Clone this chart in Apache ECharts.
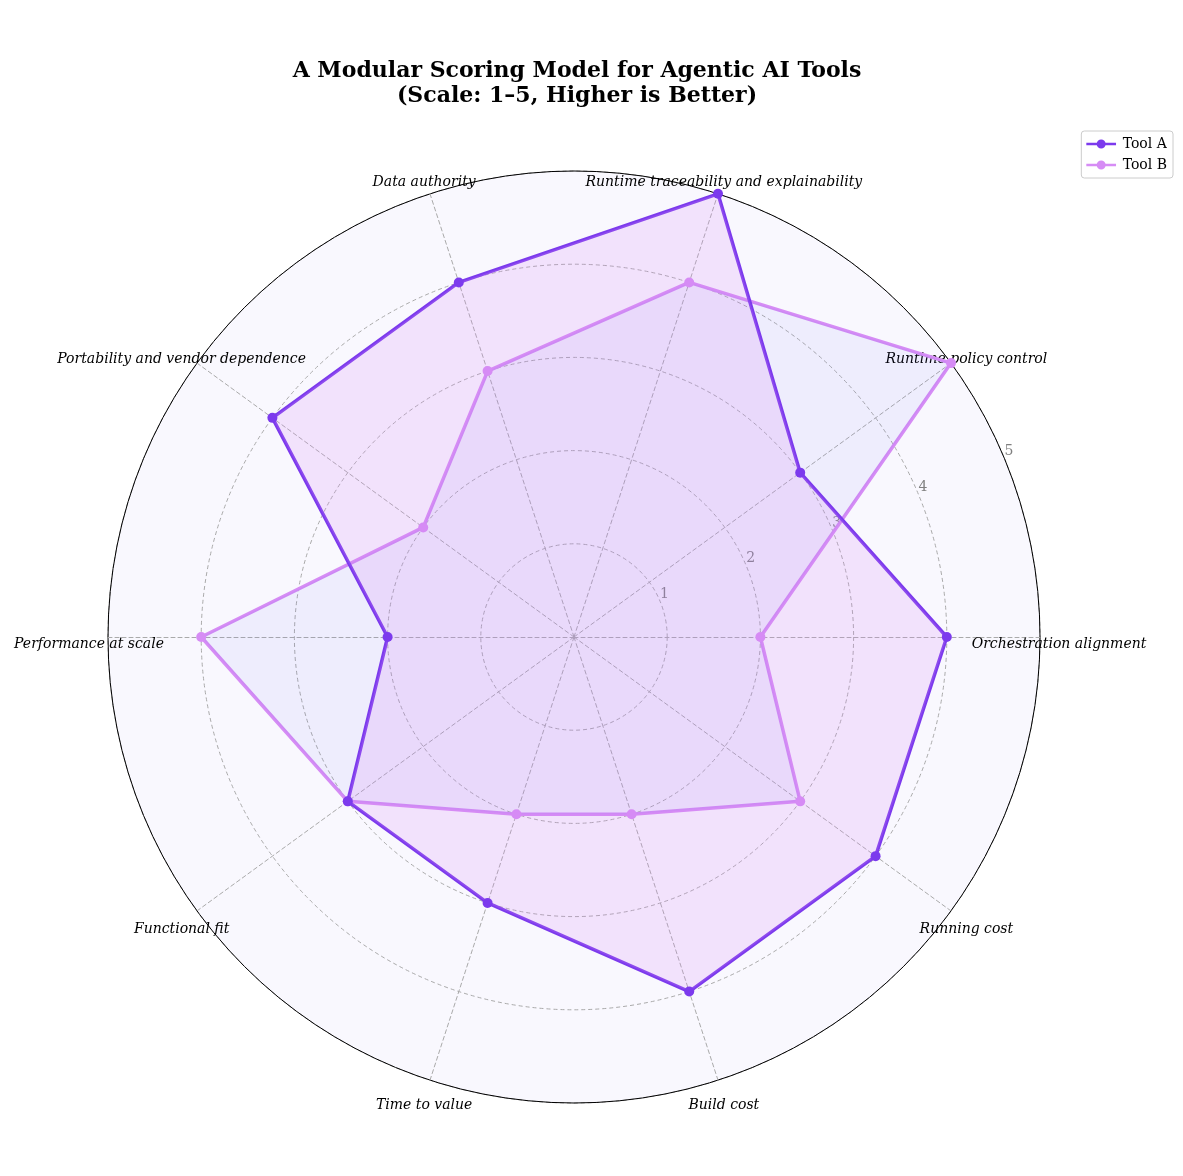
<!DOCTYPE html>
<html>
<head>
<meta charset="utf-8">
<title>Agentic AI Tools scoring</title>
<script src="https://cdn.jsdelivr.net/npm/echarts@6/dist/echarts.min.js"></script>
<style>
    html, body { margin: 0; padding: 0; background: #fff; }
    #div_echarts { width: 1183px; height: 1176px; }
</style>
</head>
<body>
<div id="div_echarts"></div>
<script>
// criteria, counter-clockwise from the right
var criteria = [
    'Orchestration alignment',
    'Runtime policy control',
    'Runtime traceability and explainability',
    'Data authority',
    'Portability and vendor dependence',
    'Performance at scale',
    'Functional fit',
    'Time to value',
    'Build cost',
    'Running cost'
];
var toolA = [4, 3, 5, 4, 4, 2, 3, 3, 4, 4];
var toolB = [2, 5, 4, 3, 2, 4, 3, 2, 2, 3];
var seriesNames = ['Tool A', 'Tool B'];
var scaleMax = 5;
var scaleTicks = [0, 1, 2, 3, 4, 5];

var FONT = '"DejaVu Serif", serif';
var CENTER = [574, 637];
var RADIUS = 466;
var COLOR_A = '#7c3aed';
var COLOR_B = '#d68cf5';

// line with a dot in the middle, like the matplotlib legend handle
var legendIcon = 'path://M0,3.5 L33,3.5 L33,6.5 L0,6.5 Z M21.5,5 A5,5 0 1 1 11.5,5 A5,5 0 1 1 21.5,5 Z';

var initEcharts = function () {
    var myChart = echarts.init(document.getElementById('div_echarts'));
    var option = {
        backgroundColor: '#ffffff',
        animation: false,
        title: {
            text: 'A Modular Scoring Model for Agentic AI Tools\n(Scale: 1\u20135, Higher is Better)',
            left: 572,
            top: 54,
            textAlign: 'center',
            textStyle: {
                fontFamily: FONT,
                fontWeight: 'bold',
                fontSize: 22,
                lineHeight: 25,
                color: '#000'
            }
        },
        legend: {
            data: seriesNames,
            right: 10,
            top: 131,
            orient: 'vertical',
            icon: legendIcon,
            itemWidth: 33,
            itemHeight: 9,
            itemGap: 7,
            padding: [6, 6, 6, 5],
            backgroundColor: '#fff',
            borderColor: '#cccccc',
            borderWidth: 1,
            borderRadius: 3,
            textStyle: { fontFamily: FONT, fontSize: 14, color: '#000' }
        },
        radar: {
            center: CENTER,
            radius: RADIUS,
            startAngle: 0,
            shape: 'circle',
            splitNumber: 5,
            indicator: criteria.map(function (name) {
                return { name: name, min: 0, max: scaleMax };
            }),
            nameGap: 19,
            axisName: {
                fontFamily: FONT,
                fontStyle: 'italic',
                fontSize: 14,
                color: '#000',
                align: 'center',
                verticalAlign: 'top'
            },
            axisLine: { lineStyle: { color: '#aaaaaa', type: [4, 3], width: 1 } },
            splitLine: { lineStyle: { color: '#aaaaaa', type: [4, 3], width: 1 } },
            splitArea: { areaStyle: { color: ['#f9f8fe'] } },
            axisLabel: { show: false }
        },
        polar: {
            center: CENTER,
            radius: RADIUS
        },
        angleAxis: {
            type: 'value',
            min: 0,
            max: 360,
            startAngle: 22.5,
            axisLine: { show: true, lineStyle: { color: '#000', width: 1 } },
            axisTick: { show: false },
            axisLabel: { show: false },
            splitLine: { show: false }
        },
        radiusAxis: {
            type: 'value',
            min: 0,
            max: scaleMax,
            interval: 1,
            axisLine: { show: false },
            axisTick: { show: false },
            splitLine: { show: false },
            axisLabel: {
                margin: 0,
                align: 'left',
                verticalAlign: 'bottom',
                fontFamily: FONT,
                fontSize: 14,
                color: '#808080',
                formatter: function (v) { return scaleTicks.indexOf(v) > 0 ? String(v) : ''; }
            }
        },
        series: [
            {
                name: seriesNames[0],
                type: 'radar',
                symbol: 'circle',
                symbolSize: 10,
                z: 3,
                itemStyle: { color: COLOR_A },
                lineStyle: { color: COLOR_A, width: 3.5 },
                data: [{
                    value: toolA,
                    name: seriesNames[0],
                    areaStyle: { color: 'rgba(214,140,245,0.28)' }
                }]
            },
            {
                name: seriesNames[1],
                type: 'radar',
                symbol: 'circle',
                symbolSize: 10,
                z: 2,
                itemStyle: { color: COLOR_B },
                lineStyle: { color: COLOR_B, width: 3.5 },
                data: [{
                    value: toolB,
                    name: seriesNames[1],
                    areaStyle: { color: 'rgba(99,102,241,0.1)' }
                }]
            }
        ]
    };
    myChart.setOption(option);
};

initEcharts();
</script>
</body>
</html>
